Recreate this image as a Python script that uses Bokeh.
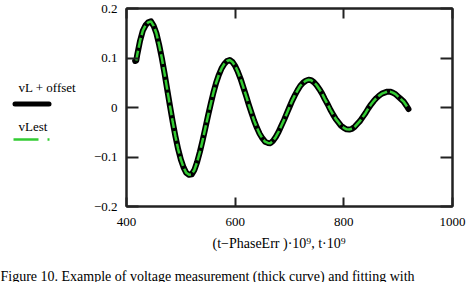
from bokeh.plotting import figure
from bokeh.layouts import row, column
from bokeh.models import LinearAxis, FixedTicker, Range1d, Title
from bokeh.core.properties import value
from bokeh.embed import file_html
from bokeh.resources import INLINE

# time axis values (ns)
t_ns = [416, 418, 420, 425, 430, 435, 440, 445, 450, 455, 460, 465, 470, 475, 480,
        485, 490, 495, 500, 505, 510, 515, 520, 525, 530, 535, 540, 545, 550, 555,
        560, 565, 570, 575, 580, 585, 590, 595, 600, 605, 610, 615, 620, 625, 630,
        635, 640, 645, 650, 655, 660, 665, 670, 675, 680, 685, 690, 695, 700, 705,
        710, 715, 720, 725, 730, 735, 740, 745, 750, 755, 760, 765, 770, 775, 780,
        785, 790, 795, 800, 805, 810, 815, 820, 825, 830, 835, 840, 845, 850, 855,
        860, 865, 870, 875, 880, 885, 890, 895, 900, 905, 910, 915, 919]

# measured voltage + offset
vL_offset = [0.094, 0.095, 0.108, 0.135, 0.155, 0.166, 0.172, 0.174, 0.165, 0.150,
             0.127, 0.100, 0.069, 0.036, 0.003, -0.029, -0.058, -0.084, -0.105, -0.121,
             -0.132, -0.136, -0.135, -0.126, -0.110, -0.090, -0.067, -0.042, -0.017, 0.007,
             0.030, 0.050, 0.066, 0.079, 0.088, 0.094, 0.096, 0.092, 0.084, 0.072,
             0.058, 0.041, 0.024, 0.006, -0.011, -0.027, -0.041, -0.053, -0.062, -0.069,
             -0.0715, -0.072, -0.067, -0.059, -0.049, -0.037, -0.025, -0.012, 0.001, 0.014,
             0.025, 0.035, 0.044, 0.050, 0.054, 0.056, 0.055, 0.051, 0.045, 0.037,
             0.028, 0.017, 0.007, -0.004, -0.014, -0.023, -0.030, -0.037, -0.041, -0.044,
             -0.0445, -0.043, -0.039, -0.033, -0.027, -0.019, -0.011, -0.002, 0.006, 0.013,
             0.019, 0.024, 0.028, 0.030, 0.032, 0.032, 0.030, 0.027, 0.022, 0.017,
             0.012, 0.004, -0.003]

# fitted estimate (overlaps the measurement)
t_est = t_ns[1:]
vLest = vL_offset[1:]

x_ticks = [400, 600, 800, 1000]
y_ticks = [-0.2, -0.1, 0, 0.1, 0.2]
y_tick_labels = ["\u22120.2", "\u22120.1", "0", "0.1", "0.2"]
x_title = "(t\u2212PhaseErr )\u00b710\u2079, t\u00b710\u2079"
legend_labels = ["vL + offset", "vLest"]
caption = "Figure 10.   Example of voltage measurement (thick curve) and fitting with"

FONT = "Liberation Serif"
GREEN = "#33cc33"
LEG_W = 90          # width of the legend strip on the left
MAIN_H = 268        # height of the chart row
CAP_H = 282 - MAIN_H

# ---------------- main chart ----------------
p = figure(width=474 - LEG_W, height=MAIN_H, output_backend="svg", toolbar_location=None,
           x_range=Range1d(400, 1000), y_range=Range1d(-0.2, 0.2),
           min_border_left=126 - LEG_W, min_border_right=22, min_border_top=8,
           min_border_bottom=MAIN_H - 206, background_fill_color="white",
           border_fill_color="white")
p.grid.visible = False
p.outline_line_color = "#222222"
p.outline_line_width = 2


def style_axis(ax, ticks, tick_in):
    ax.ticker = FixedTicker(ticks=ticks)
    ax.major_tick_in = tick_in
    ax.major_tick_out = 0
    ax.minor_tick_line_color = None
    ax.major_tick_line_width = 2
    ax.major_tick_line_color = "#222222"
    ax.axis_line_width = 2
    ax.axis_line_color = "#222222"
    ax.major_label_text_font = FONT
    ax.major_label_text_font_size = "13px"
    ax.major_label_text_color = "black"


xa = p.xaxis[0]
style_axis(xa, x_ticks, 9)
xa.major_label_standoff = 11

ya = p.yaxis[0]
style_axis(ya, y_ticks, 12)
ya.major_label_overrides = {v: s for v, s in zip(y_ticks, y_tick_labels)}
ya.major_label_standoff = 9

ra = LinearAxis()
style_axis(ra, y_ticks, 12)
ra.major_label_overrides = {v: "" for v in y_ticks}
ra.major_label_standoff = 0
p.add_layout(ra, "right")

ta = LinearAxis()
style_axis(ta, x_ticks, 10)
ta.major_label_overrides = {v: "" for v in x_ticks}
ta.major_label_standoff = 0
p.add_layout(ta, "above")

p.line(t_ns, vL_offset, line_color="black", line_width=6, line_cap="round",
       line_join="round")
p.line(t_est, vLest, line_color=GREEN, line_width=2.5, line_dash="10 3")

p.add_layout(Title(text=x_title, align="left", offset=86, standoff=10,
                   text_font=FONT, text_font_size="14px", text_font_style="normal",
                   text_color="black"), "below")

# ---------------- legend strip (pixel coordinates) ----------------
leg = figure(width=LEG_W, height=MAIN_H, output_backend="svg", toolbar_location=None,
             x_range=Range1d(0, LEG_W), y_range=Range1d(206, 8),
             min_border_left=0, min_border_right=0, min_border_top=8,
             min_border_bottom=MAIN_H - 206, background_fill_color="white",
             border_fill_color="white")
leg.axis.visible = False
leg.grid.visible = False
leg.outline_line_color = None
leg.text(x=[18, 18], y=[87, 126], text=legend_labels, text_font=value(FONT),
         text_font_size="13px", text_baseline="alphabetic", text_color="black")
leg.line(x=[14.5, 48.5], y=[103.5, 103.5], line_color="black", line_width=5,
         line_cap="round")
leg.line(x=[13, 49], y=[139, 139], line_color=GREEN, line_width=2.5,
         line_dash="25 9")

# ---------------- caption strip ----------------
cap = figure(width=474, height=CAP_H, output_backend="svg", toolbar_location=None,
             x_range=Range1d(0, 474), y_range=Range1d(CAP_H, 0),
             min_border_left=0, min_border_right=0, min_border_top=0,
             min_border_bottom=0, background_fill_color="white",
             border_fill_color="white")
cap.axis.visible = False
cap.grid.visible = False
cap.outline_line_color = None
cap.text(x=[0], y=[0.5], text=[caption], text_font=value(FONT),
         text_font_size="14px", text_baseline="top", text_color="black")

layout = column(row(leg, p, spacing=0), cap, spacing=0)
open("out.html", "w").write(file_html(layout, INLINE))
